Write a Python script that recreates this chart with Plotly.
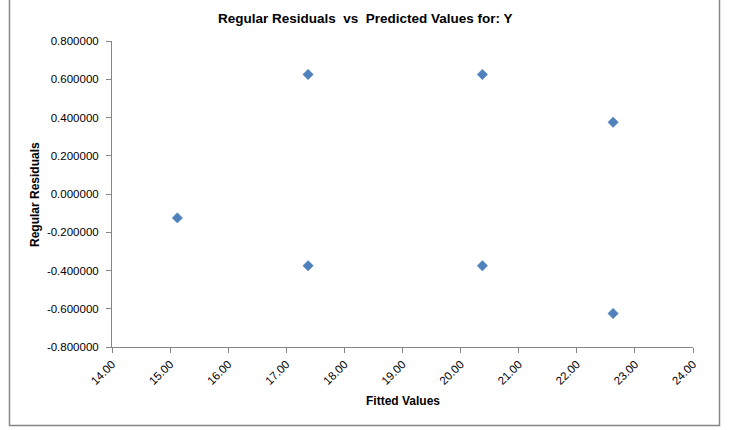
import plotly.graph_objects as go

fitted = [15.125, 17.375, 17.375, 20.375, 20.375, 22.625, 22.625]
residuals = [-0.125, 0.625, -0.375, 0.625, -0.375, 0.375, -0.625]

x_ticks = [14, 15, 16, 17, 18, 19, 20, 21, 22, 23, 24]
y_ticks = [-0.8, -0.6, -0.4, -0.2, 0.0, 0.2, 0.4, 0.6, 0.8]
y_tick_labels = ["-0.800000", "-0.600000", "-0.400000", "-0.200000", "0.000000",
                 "0.200000", "0.400000", "0.600000", "0.800000"]
x_tick_labels = ["14.00", "15.00", "16.00", "17.00", "18.00", "19.00", "20.00",
                 "21.00", "22.00", "23.00", "24.00"]

title_text = "Regular Residuals  vs  Predicted Values for: Y"
x_title = "Fitted Values"
y_title = "Regular Residuals"

W, H = 729, 430
L, R, T, B = 112, 729 - 693, 41, 430 - 347
pw, ph = W - L - R, H - T - B


def px_x(x):
    return (x - L) / pw


def px_y(y):
    return (H - B - y) / ph


fig = go.Figure()
fig.add_trace(go.Scatter(
    x=fitted, y=residuals, mode="markers",
    marker=dict(symbol="diamond", size=8, color="#4F81BD",
                line=dict(width=0.5, color="#4A7EBB")),
    showlegend=False, hoverinfo="x+y",
))

axis_font = dict(family="Liberation Sans, Arial, sans-serif", size=11.5, color="#000000")

fig.update_layout(
    width=W, height=H,
    margin=dict(l=L, r=R, t=T, b=B),
    paper_bgcolor="white", plot_bgcolor="white",
    xaxis=dict(range=[14, 24], tickvals=x_ticks, ticktext=x_tick_labels,
               tickangle=-45, showgrid=False, zeroline=False,
               showline=True, linecolor="#868686", linewidth=1,
               ticks="outside", ticklen=5, tickcolor="#868686",
               tickfont=axis_font, fixedrange=True),
    yaxis=dict(range=[-0.8, 0.8], tickvals=y_ticks, ticktext=y_tick_labels,
               showgrid=False, zeroline=False,
               showline=True, linecolor="#868686", linewidth=1,
               ticks="outside", ticklen=5, tickcolor="#868686",
               ticklabelstandoff=5,
               tickfont=axis_font, fixedrange=True),
    shapes=[dict(type="rect", xref="paper", yref="paper",
                 x0=px_x(9.5), x1=px_x(719.5), y0=px_y(425.5), y1=px_y(-3),
                 line=dict(color="#868686", width=1.5), fillcolor="rgba(0,0,0,0)",
                 layer="below")],
    annotations=[
        dict(text="<b>" + title_text + "</b>", xref="paper", yref="paper",
             x=px_x(365), y=px_y(18), showarrow=False, xanchor="center", yanchor="middle",
             font=dict(family="Liberation Sans Narrow, Arial Narrow, Liberation Sans, sans-serif",
                       size=13.5, color="#000000")),
        dict(text="<b>" + x_title + "</b>", xref="paper", yref="paper",
             x=px_x(403), y=px_y(401), showarrow=False, xanchor="center", yanchor="middle",
             font=dict(family="Liberation Sans Narrow, Arial Narrow, Liberation Sans, sans-serif",
                       size=12, color="#000000")),
        dict(text="<b>" + y_title + "</b>", xref="paper", yref="paper",
             x=px_x(35), y=px_y(195), showarrow=False, xanchor="center", yanchor="middle",
             textangle=-90,
             font=dict(family="Liberation Sans, Arial, sans-serif", size=12, color="#000000")),
    ],
)

fig.write_html(
    "out.html",
    config={"displayModeBar": False},
    post_script="document.body.style.margin='0';document.body.style.overflow='hidden';",
)
